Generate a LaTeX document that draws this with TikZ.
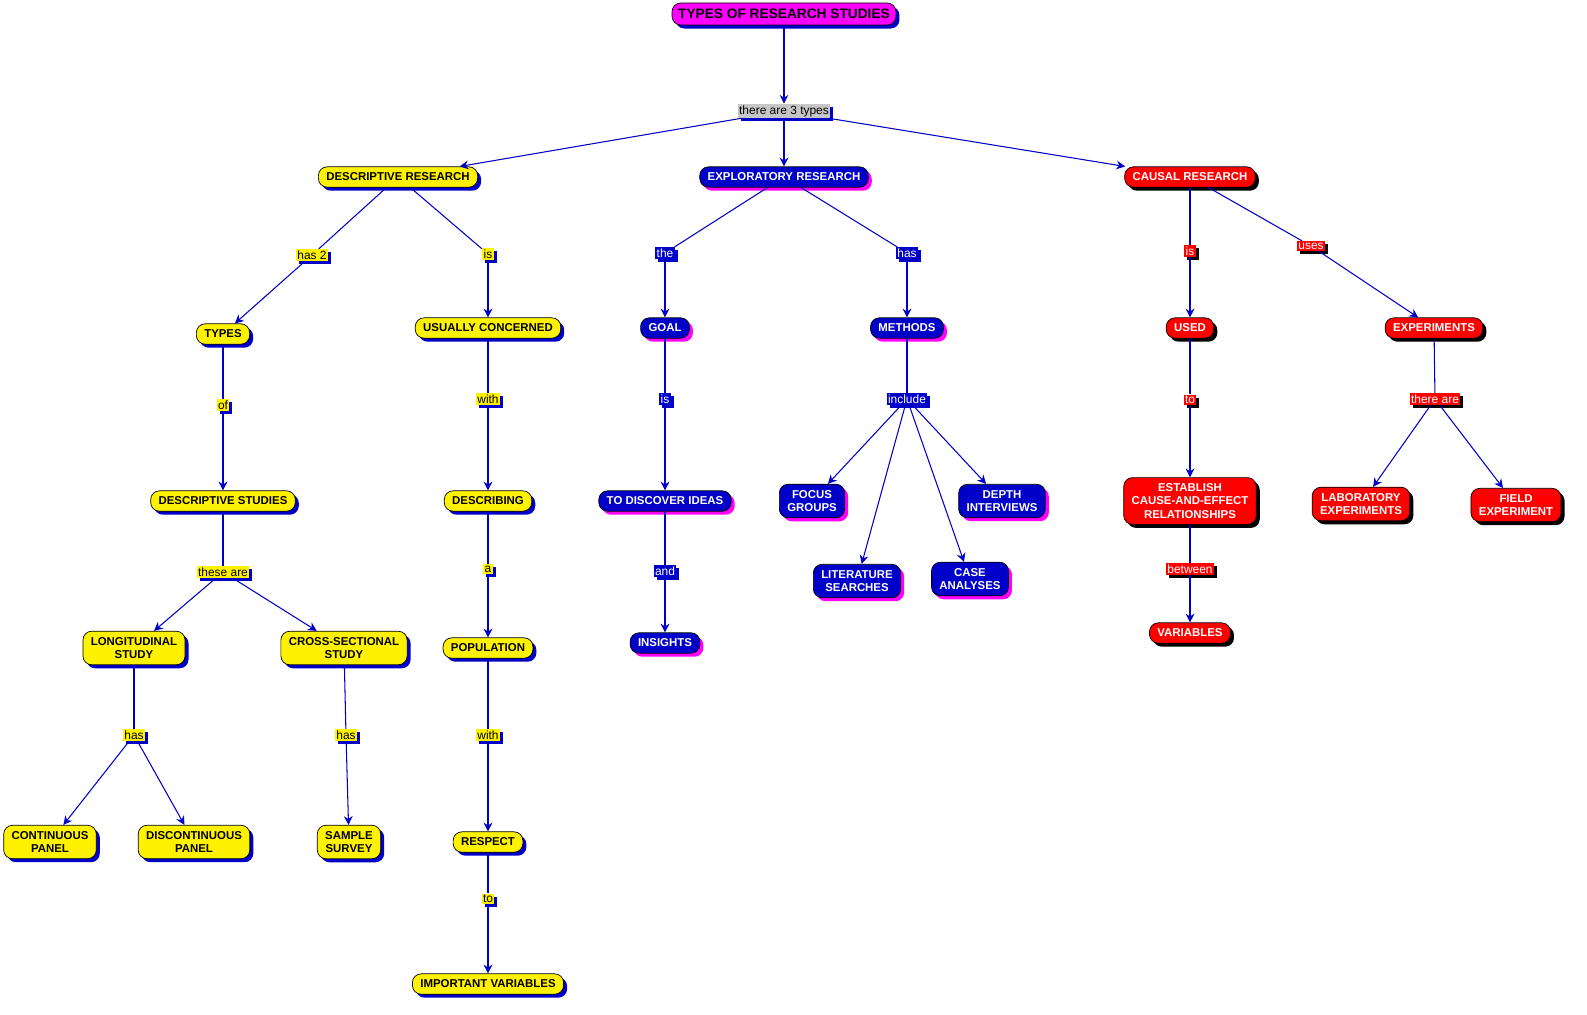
\documentclass[tikz,border=0pt]{standalone}
\usepackage{fontspec}
\setmainfont{Liberation Sans}
\usetikzlibrary{shadows,arrows.meta}
\definecolor{cblue}{RGB}{0,0,200}
\definecolor{cmag}{RGB}{255,0,255}
\definecolor{cred}{RGB}{255,0,0}
\begin{document}
\begin{tikzpicture}[x=0.02cm,y=-0.02cm,
    concept/.style={rounded corners=5pt, draw=black, thin, align=center, inner xsep=4.5pt, inner ysep=3.5pt,
        font=\fontsize{6.5}{7.5}\selectfont\bfseries},
    yc/.style={concept, fill=yellow, text=black, drop shadow={shadow xshift=0.07cm, shadow yshift=-0.07cm, fill=cblue, opacity=1}},
    bc/.style={concept, fill=cblue, text=white, drop shadow={shadow xshift=0.07cm, shadow yshift=-0.07cm, fill=cmag, opacity=1}},
    rc/.style={concept, fill=cred, text=white, drop shadow={shadow xshift=0.07cm, shadow yshift=-0.07cm, fill=black, opacity=1}},
    lab/.style={inner sep=0.8pt, font=\fontsize{6.8}{7.5}\selectfont},
    yl/.style={lab, fill=yellow, drop shadow={shadow xshift=0.06cm, shadow yshift=-0.06cm, fill=cblue, opacity=1}},
    bl/.style={lab, fill=cblue, text=white, drop shadow={shadow xshift=0.06cm, shadow yshift=-0.06cm, fill=cblue, opacity=1}},
    rl/.style={lab, fill=cred, text=white, drop shadow={shadow xshift=0.06cm, shadow yshift=-0.06cm, fill=black, opacity=1}},
    gl/.style={lab, fill=black!22, drop shadow={shadow xshift=0.06cm, shadow yshift=-0.06cm, fill=cblue, opacity=1}},
    link/.style={draw=cblue, semithick},
    arr/.style={link, -{Stealth[length=5pt,width=5pt]}}]
\useasboundingbox (0,0) rectangle (1587,1015);
% top
\node[concept, fill=cmag, text=black, font=\fontsize{7.8}{8}\selectfont\bfseries, inner sep=3.5pt,
    drop shadow={shadow xshift=0.07cm, shadow yshift=-0.07cm, fill=cblue, opacity=1}] (top) at (784,14) {TYPES OF RESEARCH STUDIES};
\node[gl] (three) at (784,111) {there are 3 types};
\node[yc] (desc) at (398,177) {DESCRIPTIVE RESEARCH};
\node[bc] (expl) at (784,177) {EXPLORATORY RESEARCH};
\node[rc] (caus) at (1190,177) {CAUSAL RESEARCH};
% descriptive
\node[yl] (has2) at (312,255) {has 2};
\node[yc] (types) at (223,334) {TYPES};
\node[yl] (of) at (223,405) {of};
\node[yc] (dstud) at (223,501) {DESCRIPTIVE STUDIES};
\node[yl] (these) at (223,572) {these are};
\node[yc] (long) at (134,648) {LONGITUDINAL\\STUDY};
\node[yc] (cross) at (344,648) {CROSS-SECTIONAL\\STUDY};
\node[yl] (hasl) at (134,735) {has};
\node[yl] (hasc) at (346,735) {has};
\node[yc] (cont) at (50,842) {CONTINUOUS\\PANEL};
\node[yc] (disc) at (194,842) {DISCONTINUOUS\\PANEL};
\node[yc] (sample) at (349,842) {SAMPLE\\SURVEY};
\node[yl] (isd) at (488,254) {is};
\node[yc] (usual) at (488,328) {USUALLY CONCERNED};
\node[yl] (with1) at (488,399) {with};
\node[yc] (dscr) at (488,501) {DESCRIBING};
\node[yl] (a) at (488,569) {a};
\node[yc] (popu) at (488,648) {POPULATION};
\node[yl] (with2) at (488,735) {with};
\node[yc] (resp) at (488,842) {RESPECT};
\node[yl] (tod) at (488,899) {to};
\node[yc] (impv) at (488,984) {IMPORTANT VARIABLES};
% exploratory
\node[bl] (the) at (665,253) {the};
\node[bc] (goal) at (665,328) {GOAL};
\node[bl] (ise) at (665,399) {is};
\node[bc] (ideas) at (665,501) {TO DISCOVER IDEAS};
\node[bl] (and) at (665,571) {and};
\node[bc] (insi) at (665,643) {INSIGHTS};
\node[bl] (hase) at (907,253) {has};
\node[bc] (meth) at (907,328) {METHODS};
\node[bl] (incl) at (907,399) {include};
\node[bc] (focus) at (812,501) {FOCUS\\GROUPS};
\node[bc] (lit) at (857,581) {LITERATURE\\SEARCHES};
\node[bc] (case) at (970,579) {CASE\\ANALYSES};
\node[bc] (depth) at (1002,501) {DEPTH\\INTERVIEWS};
% causal
\node[rl] (isc) at (1190,251) {is};
\node[rc] (used) at (1190,328) {USED};
\node[rl] (toc) at (1190,400) {to};
\node[rc] (estab) at (1190,501) {ESTABLISH\\CAUSE-AND-EFFECT\\RELATIONSHIPS};
\node[rl] (betw) at (1190,569) {between};
\node[rc] (vars) at (1190,633) {VARIABLES};
\node[rl] (uses) at (1311,246) {uses};
\node[rc] (expe) at (1434,328) {EXPERIMENTS};
\node[rl] (thera) at (1435,399) {there are};
\node[rc] (lab) at (1361,504) {LABORATORY\\EXPERIMENTS};
\node[rc] (field) at (1516,505) {FIELD\\EXPERIMENT};
% connectors
\draw[arr] (top) -- (three);
\foreach \t in {desc,expl,caus} \draw[arr] (three) -- (\t);
\foreach \s/\l/\t in {desc/has2/types, types/of/dstud, desc/isd/usual, usual/with1/dscr,
    dscr/a/popu, popu/with2/resp, resp/tod/impv, cross/hasc/sample,
    expl/the/goal, goal/ise/ideas, ideas/and/insi, expl/hase/meth,
    caus/isc/used, used/toc/estab, estab/betw/vars, caus/uses/expe}
    {\draw[link] (\s) -- (\l); \draw[arr] (\l) -- (\t);}
\draw[link] (dstud) -- (these);
\foreach \t in {long,cross} \draw[arr] (these) -- (\t);
\draw[link] (long) -- (hasl);
\foreach \t in {cont,disc} \draw[arr] (hasl) -- (\t);
\draw[link] (meth) -- (incl);
\foreach \t in {focus,lit,case,depth} \draw[arr] (incl) -- (\t);
\draw[link] (expe) -- (thera);
\foreach \t in {lab,field} \draw[arr] (thera) -- (\t);
\end{tikzpicture}
\end{document}
